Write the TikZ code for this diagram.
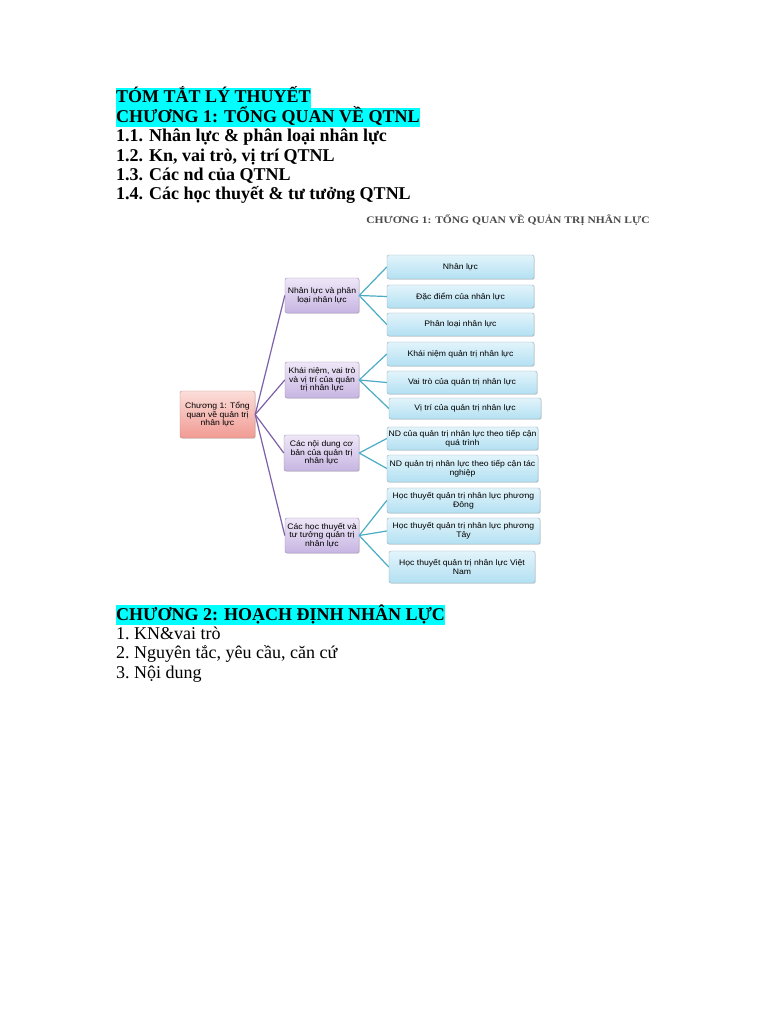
\documentclass[tikz,border=0pt]{standalone}
\usepackage{fontspec}
\setmainfont{Liberation Serif}
\setsansfont{Liberation Sans}
\newfontfamily\diagfont[FakeStretch=1.08]{Liberation Sans}
\newfontfamily\titlefont[FakeStretch=1.15]{Liberation Serif}
\usetikzlibrary{shadows}
\definecolor{hlcyan}{HTML}{00FFFF}
\definecolor{ptop}{HTML}{EEE7F7}
\definecolor{pbot}{HTML}{C7B5E2}
\definecolor{pborder}{HTML}{9C8EAE}
\definecolor{btop}{HTML}{E2F4FB}
\definecolor{bbot}{HTML}{B3E0F2}
\definecolor{bborder}{HTML}{94AEBA}
\definecolor{rtop}{HTML}{FCDDD9}
\definecolor{rbot}{HTML}{F09B93}
\definecolor{rborder}{HTML}{C08A84}
\definecolor{pline}{HTML}{7D60A8}
\definecolor{bline}{HTML}{4BACC6}
\definecolor{titlegrey}{HTML}{4A4A4A}
\tikzset{
  hl/.style={fill=hlcyan, inner xsep=0pt, inner ysep=0pt, text height=14.6pt, text depth=4.6pt, anchor=base west, font=\fontsize{18}{19.4}\selectfont\bfseries},
  bodyb/.style={inner sep=0pt, anchor=base west, font=\fontsize{18}{19.4}\selectfont\bfseries},
  bodyr/.style={inner sep=0pt, anchor=base west, font=\fontsize{18}{19.4}\selectfont},
  boxbase/.style={rounded corners=2pt, align=center, inner sep=1pt, font=\diagfont\fontsize{8}{8.6}\selectfont, text=black,
    drop shadow={opacity=0.25, shadow xshift=0.8pt, shadow yshift=-0.8pt}},
  rootbox/.style={boxbase, draw=rborder, top color=rtop, bottom color=rbot, minimum width=75pt, minimum height=47pt},
  pbox/.style={boxbase, draw=pborder, top color=ptop, bottom color=pbot, minimum width=74pt, minimum height=35pt},
  bbox/.style={boxbase, draw=bborder, top color=btop, bottom color=bbot, minimum width=147pt, minimum height=24pt},
  pconn/.style={draw=pline, line width=1.2pt},
  bconn/.style={draw=bline, line width=1.2pt},
}
\begin{document}
\begin{tikzpicture}[x=1pt,y=-1pt]
\useasboundingbox[fill=white] (0,0) rectangle (768,1024);
% header text
\node[hl] (t1) at (116,103) {TÓM TẮT LÝ THUYẾT};
\node[hl] (t2) at (116,122.6) {CHƯƠNG 1: TỔNG QUAN VỀ QTNL};
\node[bodyb] (l1) at (116,141.8) {1.1. Nhân lực \& phân loại nhân lực};
\node[bodyb] (l2) at (116,161.2) {1.2. Kn, vai trò, vị trí QTNL};
\node[bodyb] (l3) at (116,180.6) {1.3. Các nd của QTNL};
\node[bodyb] (l4) at (116,200) {1.4. Các học thuyết \& tư tưởng QTNL};
% diagram title
\node[inner sep=0pt, anchor=base, text=titlegrey, font=\titlefont\fontsize{10}{11}\selectfont\bfseries] (dt) at (508,224) {CHƯƠNG 1: TỔNG QUAN VỀ QUẢN TRỊ NHÂN LỰC};
% root
\node[rootbox] (root) at (217.5,414.5) {Chương 1: Tổng\\quan về quản trị\\nhân lực};
% level 1
\node[pbox] (p1) at (322,295.5) {Nhân lực và phân\\loại nhân lực};
\node[pbox, minimum height=36pt] (p2) at (322,380) {Khái niệm, vai trò\\và vị trí của quản\\trị nhân lực};
\node[pbox, minimum height=36pt, minimum width=75pt] (p3) at (321.5,453) {Các nội dung cơ\\bản của quản trị\\nhân lực};
\node[pbox] (p4) at (322,535.5) {Các học thuyết và\\tư tưởng quản trị\\nhân lực};
% level 2
\node[bbox] (b1) at (460.5,267) {Nhân lực};
\node[bbox, minimum height=23pt] (b2) at (460.5,296.5) {Đặc điểm của nhân lực};
\node[bbox, minimum height=23pt] (b3) at (460.5,324.5) {Phân loại nhân lực};
\node[bbox] (b4) at (460.5,354) {Khái niệm quản trị nhân lực};
\node[bbox, minimum width=150pt, minimum height=23pt] (b5) at (462,382.5) {Vai trò của quản trị nhân lực};
\node[bbox, minimum width=152pt, minimum height=21pt] (b6) at (465,408.5) {Vị trí của quản trị nhân lực};
\node[bbox, minimum width=151pt, minimum height=23pt] (b7) at (462.5,438.5) {ND của quản trị nhân lực theo tiếp cận\\quá trình};
\node[bbox, minimum width=151pt, minimum height=27pt] (b8) at (462.5,468.5) {ND quản trị nhân lực theo tiếp cận tác\\nghiệp};
\node[bbox, minimum width=153pt, minimum height=25pt] (b9) at (463.5,500.5) {Học thuyết quản trị nhân lực phương\\Đông};
\node[bbox, minimum width=153pt, minimum height=26pt] (b10) at (463.5,531) {Học thuyết quản trị nhân lực phương\\Tây};
\node[bbox, minimum width=146pt, minimum height=32pt] (b11) at (462,567) {Học thuyết quản trị nhân lực Việt\\Nam};
% connectors
\foreach \p in {p1,p2,p3,p4} \draw[pconn] (root.east) -- (\p.west);
\foreach \b in {b1,b2,b3} \draw[bconn] (p1.east) -- (\b.west);
\foreach \b in {b4,b5,b6} \draw[bconn] (p2.east) -- (\b.west);
\foreach \b in {b7,b8} \draw[bconn] (p3.east) -- (\b.west);
\foreach \b in {b9,b10,b11} \draw[bconn] (p4.east) -- (\b.west);
% chapter 2
\node[hl] (c2) at (116,620) {CHƯƠNG 2: HOẠCH ĐỊNH NHÂN LỰC};
\node[bodyr] (m1) at (116,639.3) {1.\ KN\&vai trò};
\node[bodyr] (m2) at (116,658.6) {2.\ Nguyên tắc, yêu cầu, căn cứ};
\node[bodyr] (m3) at (116,678) {3.\ Nội dung};
\end{tikzpicture}
\end{document}
